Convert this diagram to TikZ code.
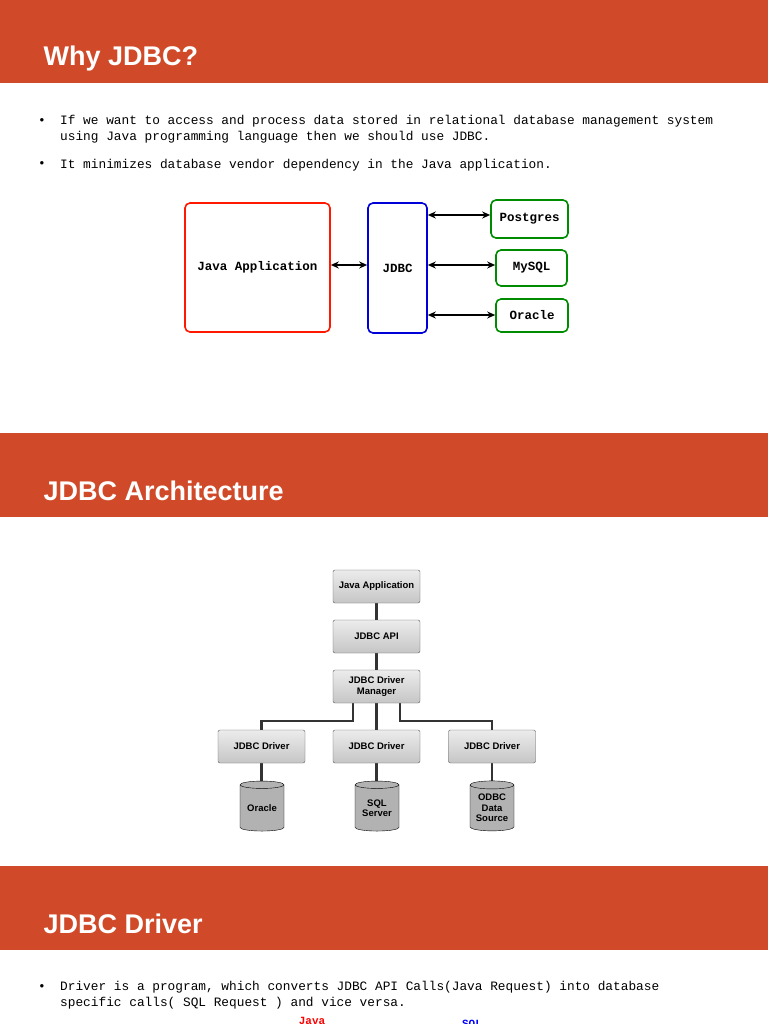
\documentclass[tikz,border=0pt]{standalone}
\usepackage{fontspec}
\setmainfont{Liberation Sans}
\newfontfamily\monof{Liberation Mono}
\usetikzlibrary{shapes.geometric,arrows.meta}
\definecolor{hdr}{HTML}{D04A2A}
\tikzset{
 hbar/.style={fill=hdr,draw=none},
 htitle/.style={anchor=west,text=white,font=\bfseries\fontsize{27}{30}\selectfont},
 btext/.style={anchor=west,font=\monof\fontsize{12.8}{16}\selectfont,align=left,inner sep=0pt},
 rbox/.style={draw,rounded corners=5pt,line width=1.6pt,font=\monof\bfseries\fontsize{12.5}{14}\selectfont},
 darr/.style={{Stealth[length=8pt,width=7pt]}-{Stealth[length=8pt,width=7pt]},line width=1.6pt},
 gbox/.style={draw=gray!70!black,rounded corners=2pt,top color=gray!15,bottom color=gray!45,minimum width=87pt,minimum height=33pt,font=\bfseries\fontsize{9.5}{10.5}\selectfont,align=center,inner sep=1pt},
 cyl/.style={cylinder,shape border rotate=90,aspect=0.25,draw=black,fill=gray!60,minimum width=44pt,minimum height=50pt,font=\bfseries\fontsize{9.5}{10.5}\selectfont,align=center,inner sep=0pt},
 link/.style={line width=2.6pt,gray!40!black}
}
\begin{document}
\begin{tikzpicture}[x=1pt,y=-1pt]
\useasboundingbox (0,0) rectangle (768,1024);
\fill[white] (0,0) rectangle (768,1024);
\fill[hbar] (0,0) rectangle (768,83);
\node[htitle] (t1) at (40,59) {Why JDBC?};
\fill[hbar] (0,433) rectangle (768,517);
\node[htitle] (t2) at (40,491) {JDBC Architecture};
\fill[hbar] (0,866) rectangle (768,950);
\node[htitle] (t3) at (40,924) {JDBC Driver};
% bullets 1
\node[btext] (b1) at (38,122) {\textbullet};
\node[btext] (l1) at (60,129.5) {If we want to access and process data stored in relational database management system\\using Java programming language then we should use JDBC.};
\node[btext] (b2) at (38,165) {\textbullet};
\node[btext] (l2) at (60,165) {It minimizes database vendor dependency in the Java application.};
% diagram 1
\node[rbox,draw=red!80!orange,minimum width=145pt,minimum height=129pt] (ja) at (257.5,267.5) {Java Application};
\node[rbox,draw=blue!85!black,minimum width=59pt,minimum height=130pt] (jd) at (397.5,268) {JDBC};
\node[rbox,draw=green!55!black,minimum width=77pt,minimum height=38pt] (pg) at (529.5,219) {Postgres};
\node[rbox,draw=green!55!black,minimum width=71pt,minimum height=36pt] (my) at (531.5,268) {MySQL};
\node[rbox,draw=green!55!black,minimum width=72pt,minimum height=33pt] (or) at (532,315.5) {Oracle};
\draw[darr] (ja.east|-0,265) -- (jd.west|-0,265);
\draw[darr] (jd.east|-0,215) -- (pg.west|-0,215);
\draw[darr] (jd.east|-0,265) -- (my.west|-0,265);
\draw[darr] (jd.east|-0,315) -- (or.west|-0,315);
% architecture links first
\coordinate (m1) at (353,703);
\coordinate (m3) at (400,703);
\coordinate (e1) at (261.5,721);
\coordinate (e3) at (492,721);
\draw[link] (376.5,586) -- (376.5,808);
\draw[link] (m1) |- (e1) -- (261.5,808);
\draw[link] (m3) |- (e3) -- (492,808);
\node[gbox] (a1) at (376.5,586.5) {Java Application};
\node[gbox] (a2) at (376.5,636.5) {JDBC API};
\node[gbox] (a3) at (376.5,686.5) {JDBC Driver\\Manager};
\node[gbox] (d1) at (261.5,746.5) {JDBC Driver};
\node[gbox] (d2) at (376.5,746.5) {JDBC Driver};
\node[gbox] (d3) at (492,746.5) {JDBC Driver};
\node[cyl] (c1) at (262,808) {Oracle};
\node[cyl] (c2) at (377,808) {SQL\\Server};
\node[cyl] (c3) at (492,808) {ODBC\\Data\\Source};
% bottom
\node[btext] (b3) at (38,987) {\textbullet};
\node[btext] (l3) at (60,995) {Driver is a program, which converts JDBC API Calls(Java Request) into database\\specific calls( SQL Request ) and vice versa.};
\node[anchor=north,text=red,font=\monof\bfseries\fontsize{11}{12}\selectfont,inner sep=0pt] (jv) at (312,1017) {Java};
\node[anchor=north,text=blue,font=\monof\bfseries\fontsize{11}{12}\selectfont,inner sep=0pt] (sq) at (472,1020) {SQL};
\end{tikzpicture}
\end{document}
